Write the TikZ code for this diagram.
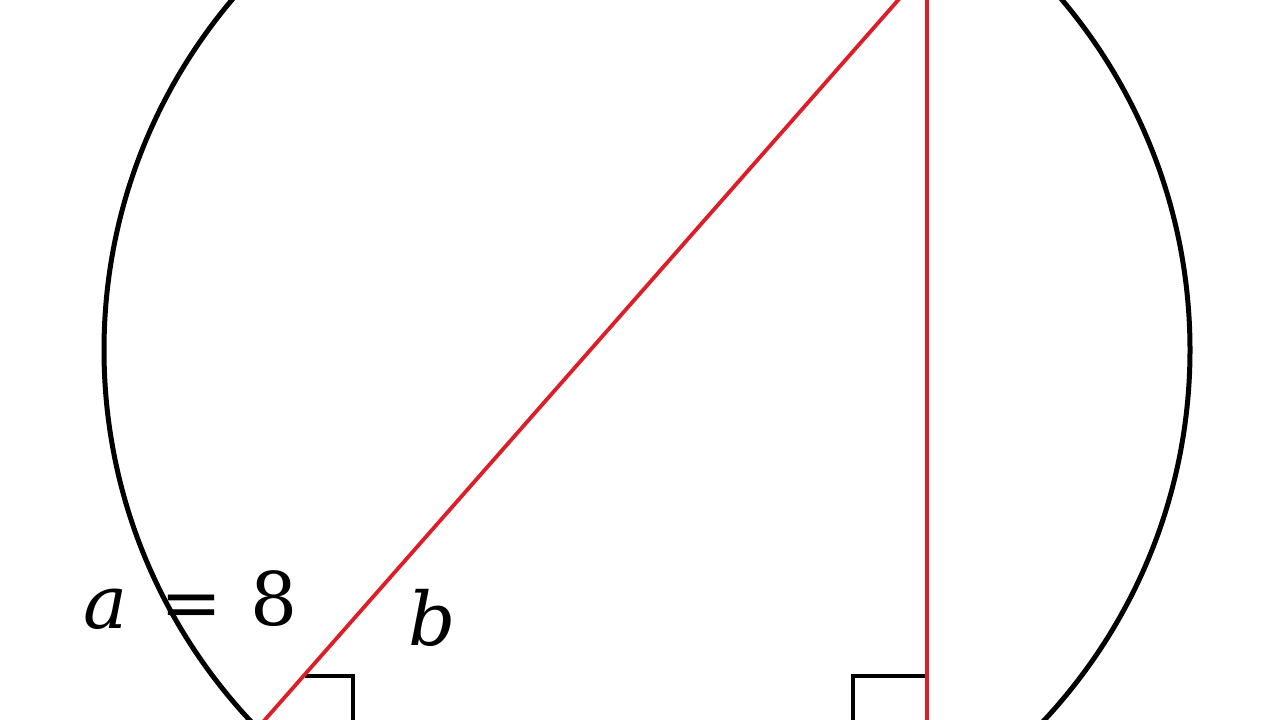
\documentclass[tikz,border=0pt]{standalone}
\usepackage{fontspec}
\newfontfamily\lblfont{DejaVu Serif}
\begin{document}
\begin{tikzpicture}[x=1pt,y=-1pt,
  circ/.style={line width=5pt,black},
  redline/.style={line width=3.8pt,color={rgb,255:red,220;green,30;blue,40}},
  rmark/.style={line width=4.5pt,black,line cap=rect},
  lbl/.style={inner sep=0pt,font=\lblfont\fontsize{74}{80}\selectfont}]
\useasboundingbox (0,0) rectangle (1280,720);
\clip (0,0) rectangle (1280,720);
\fill[white] (0,0) rectangle (1280,720);
\coordinate (O) at (647,350);
\draw[circ] (O) circle[radius=543];
\coordinate (A) at (263,722);
\coordinate (B) at (900,-2);
\coordinate (C) at (927,-2);
\coordinate (D) at (927,722);
\coordinate (m1) at (307,676);
\coordinate (m2) at (353,676);
\coordinate (m3) at (353,725);
\coordinate (n1) at (927,676);
\coordinate (n2) at (853,676);
\coordinate (n3) at (853,725);
\draw[rmark] (m1) -- (m2) -- (m3);
\draw[rmark] (n1) -- (n2) -- (n3);
\draw[redline] (A) -- (B);
\draw[redline] (C) -- (D);
\node[lbl,anchor=base west] (la) at (83,628) {\itshape a};
\node[lbl,anchor=base west] (leq) at (160,628) {=};
\node[lbl,anchor=base west] (l8) at (250,625) {8};
\node[lbl,anchor=base west] (lb) at (408,645) {\itshape b};
\end{tikzpicture}
\end{document}
